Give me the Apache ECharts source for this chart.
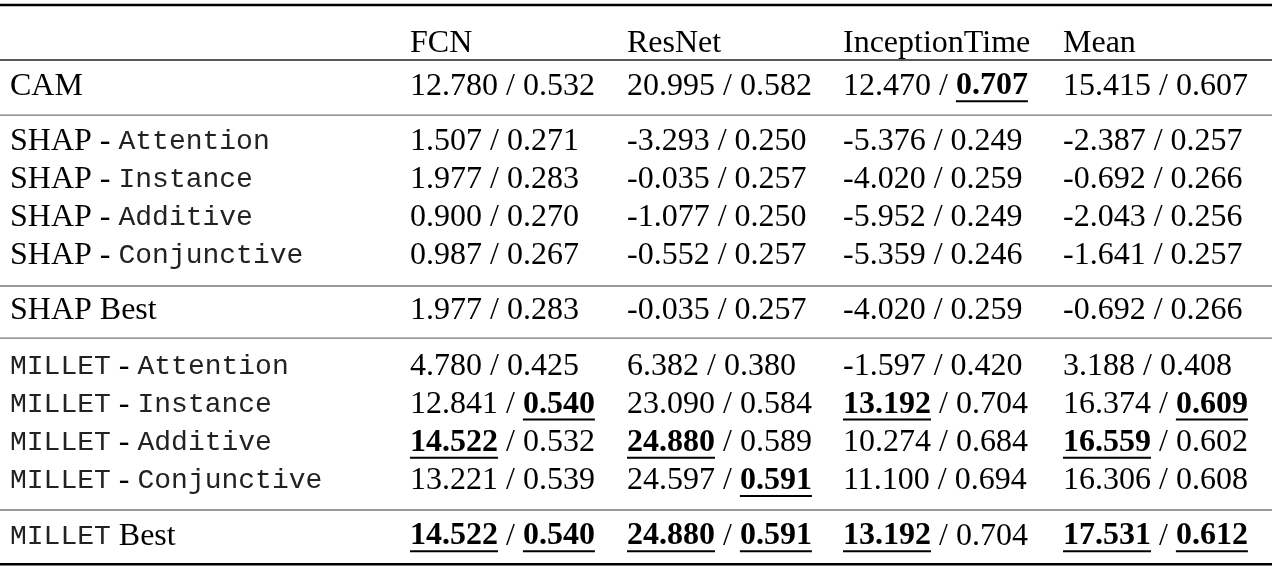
<!DOCTYPE html>
<html>
<head>
<meta charset="utf-8">
<script src="https://cdn.jsdelivr.net/npm/echarts@6/dist/echarts.min.js"></script>
<style>
  html, body { margin: 0; padding: 0; background: #fff; }
  #chart { width: 1272px; height: 568px; }
</style>
</head>
<body>
<div id="chart"></div>
<script>
// `...` = monospace text, _..._ = bold + underlined (best result)
const headers = ['', 'FCN', 'ResNet', 'InceptionTime', 'Mean'];
const rowLabels = [
  'CAM',
  'SHAP - `Attention`',
  'SHAP - `Instance`',
  'SHAP - `Additive`',
  'SHAP - `Conjunctive`',
  'SHAP Best',
  '`MILLET` - `Attention`',
  '`MILLET` - `Instance`',
  '`MILLET` - `Additive`',
  '`MILLET` - `Conjunctive`',
  '`MILLET` Best',
];
const rowGroups = [1, 2, 2, 2, 2, 3, 4, 4, 4, 4, 5];
const fcn = ['12.780 / 0.532', '1.507 / 0.271', '1.977 / 0.283', '0.900 / 0.270', '0.987 / 0.267', '1.977 / 0.283',
  '4.780 / 0.425', '12.841 / _0.540_', '_14.522_ / 0.532', '13.221 / 0.539', '_14.522_ / _0.540_'];
const resnet = ['20.995 / 0.582', '-3.293 / 0.250', '-0.035 / 0.257', '-1.077 / 0.250', '-0.552 / 0.257', '-0.035 / 0.257',
  '6.382 / 0.380', '23.090 / 0.584', '_24.880_ / 0.589', '24.597 / _0.591_', '_24.880_ / _0.591_'];
const inception = ['12.470 / _0.707_', '-5.376 / 0.249', '-4.020 / 0.259', '-5.952 / 0.249', '-5.359 / 0.246', '-4.020 / 0.259',
  '-1.597 / 0.420', '_13.192_ / 0.704', '10.274 / 0.684', '11.100 / 0.694', '_13.192_ / 0.704'];
const mean = ['15.415 / 0.607', '-2.387 / 0.257', '-0.692 / 0.266', '-2.043 / 0.256', '-1.641 / 0.257', '-0.692 / 0.266',
  '3.188 / 0.408', '16.374 / _0.609_', '_16.559_ / 0.602', '16.306 / 0.608', '_17.531_ / _0.612_'];

const columns = [rowLabels, fcn, resnet, inception, mean];

// layout
const colX = [10, 410, 627, 843, 1063];
const groupGaps = [4, 17, 16, 18, 17];
const pitch = 38.2;
const SERIF = '32px "Liberation Serif", "DejaVu Serif", serif';
const SERIF_B = 'bold 32px "Liberation Serif", "DejaVu Serif", serif';
const MONO = '28px "Liberation Mono", "DejaVu Sans Mono", monospace';

function rowY(r) {
  // r = 0 is the header line
  const g = r === 0 ? 0 : rowGroups[r - 1];
  let y = 44 + pitch * r;
  for (let k = 0; k < g; k++) y += groupGaps[k];
  return y;
}

const ctx = document.createElement('canvas').getContext('2d');
function measure(text, font) {
  ctx.font = font;
  return ctx.measureText(text).width;
}

function segments(str) {
  const out = [];
  const re = /(`[^`]*`|_[^_]*_)/g;
  let last = 0, m;
  while ((m = re.exec(str))) {
    if (m.index > last) out.push({ t: str.slice(last, m.index), font: SERIF });
    const s = m[0];
    if (s[0] === '`') out.push({ t: s.slice(1, -1), font: MONO, mono: true });
    else out.push({ t: s.slice(1, -1), font: SERIF_B, u: true });
    last = m.index + s.length;
  }
  if (last < str.length) out.push({ t: str.slice(last), font: SERIF });
  return out;
}

const cells = [];
headers.forEach((h, c) => { if (h) cells.push([c, 0, h]); });
columns.forEach((col, c) => col.forEach((v, i) => cells.push([c, i + 1, v])));

// rules: [after row, offset below that row's centre, width, colour]
const rules = [
  [0, -39, 2.5, '#000'],
  [0, 16, 1.3, '#222'],
  [1, 29, 1.3, '#777'],
  [5, 30, 1.3, '#777'],
  [6, 28, 1.3, '#777'],
  [10, 29, 1.3, '#777'],
  [11, 28, 2.5, '#000'],
];

const chart = echarts.init(document.getElementById('chart'));
chart.setOption({
  animation: false,
  grid: { left: 0, right: 0, top: 0, bottom: 0 },
  xAxis: { type: 'value', min: 0, max: 1272, show: false },
  yAxis: { type: 'value', min: 0, max: 568, inverse: true, show: false },
  series: [
    {
      type: 'custom',
      data: cells,
      renderItem(params, api) {
        const c = api.value(0), r = api.value(1);
        const str = cells[params.dataIndex][2];
        const p = api.coord([colX[c], rowY(r)]);
        let x = p[0];
        const children = [];
        segments(str).forEach((s) => {
          const w = measure(s.t, s.font);
          children.push({
            type: 'text',
            style: {
              text: s.t, x, y: p[1], font: s.font,
              fill: s.mono ? '#222' : '#000', textVerticalAlign: 'middle',
            },
          });
          if (s.u) {
            children.push({
              type: 'line',
              shape: { x1: x, y1: p[1] + 15, x2: x + w, y2: p[1] + 15 },
              style: { stroke: '#000', lineWidth: 2 },
            });
          }
          x += w;
        });
        return { type: 'group', children };
      },
    },
    {
      type: 'custom',
      data: rules.map((d) => [d[0], d[1]]),
      renderItem(params, api) {
        const rule = rules[params.dataIndex];
        const y = rowY(rule[0]) + rule[1];
        const a = api.coord([0, y]), b = api.coord([1272, y]);
        return {
          type: 'line',
          shape: { x1: a[0], y1: a[1], x2: b[0], y2: b[1] },
          style: { stroke: rule[3], lineWidth: rule[2] },
        };
      },
    },
  ],
});
</script>
</body>
</html>
